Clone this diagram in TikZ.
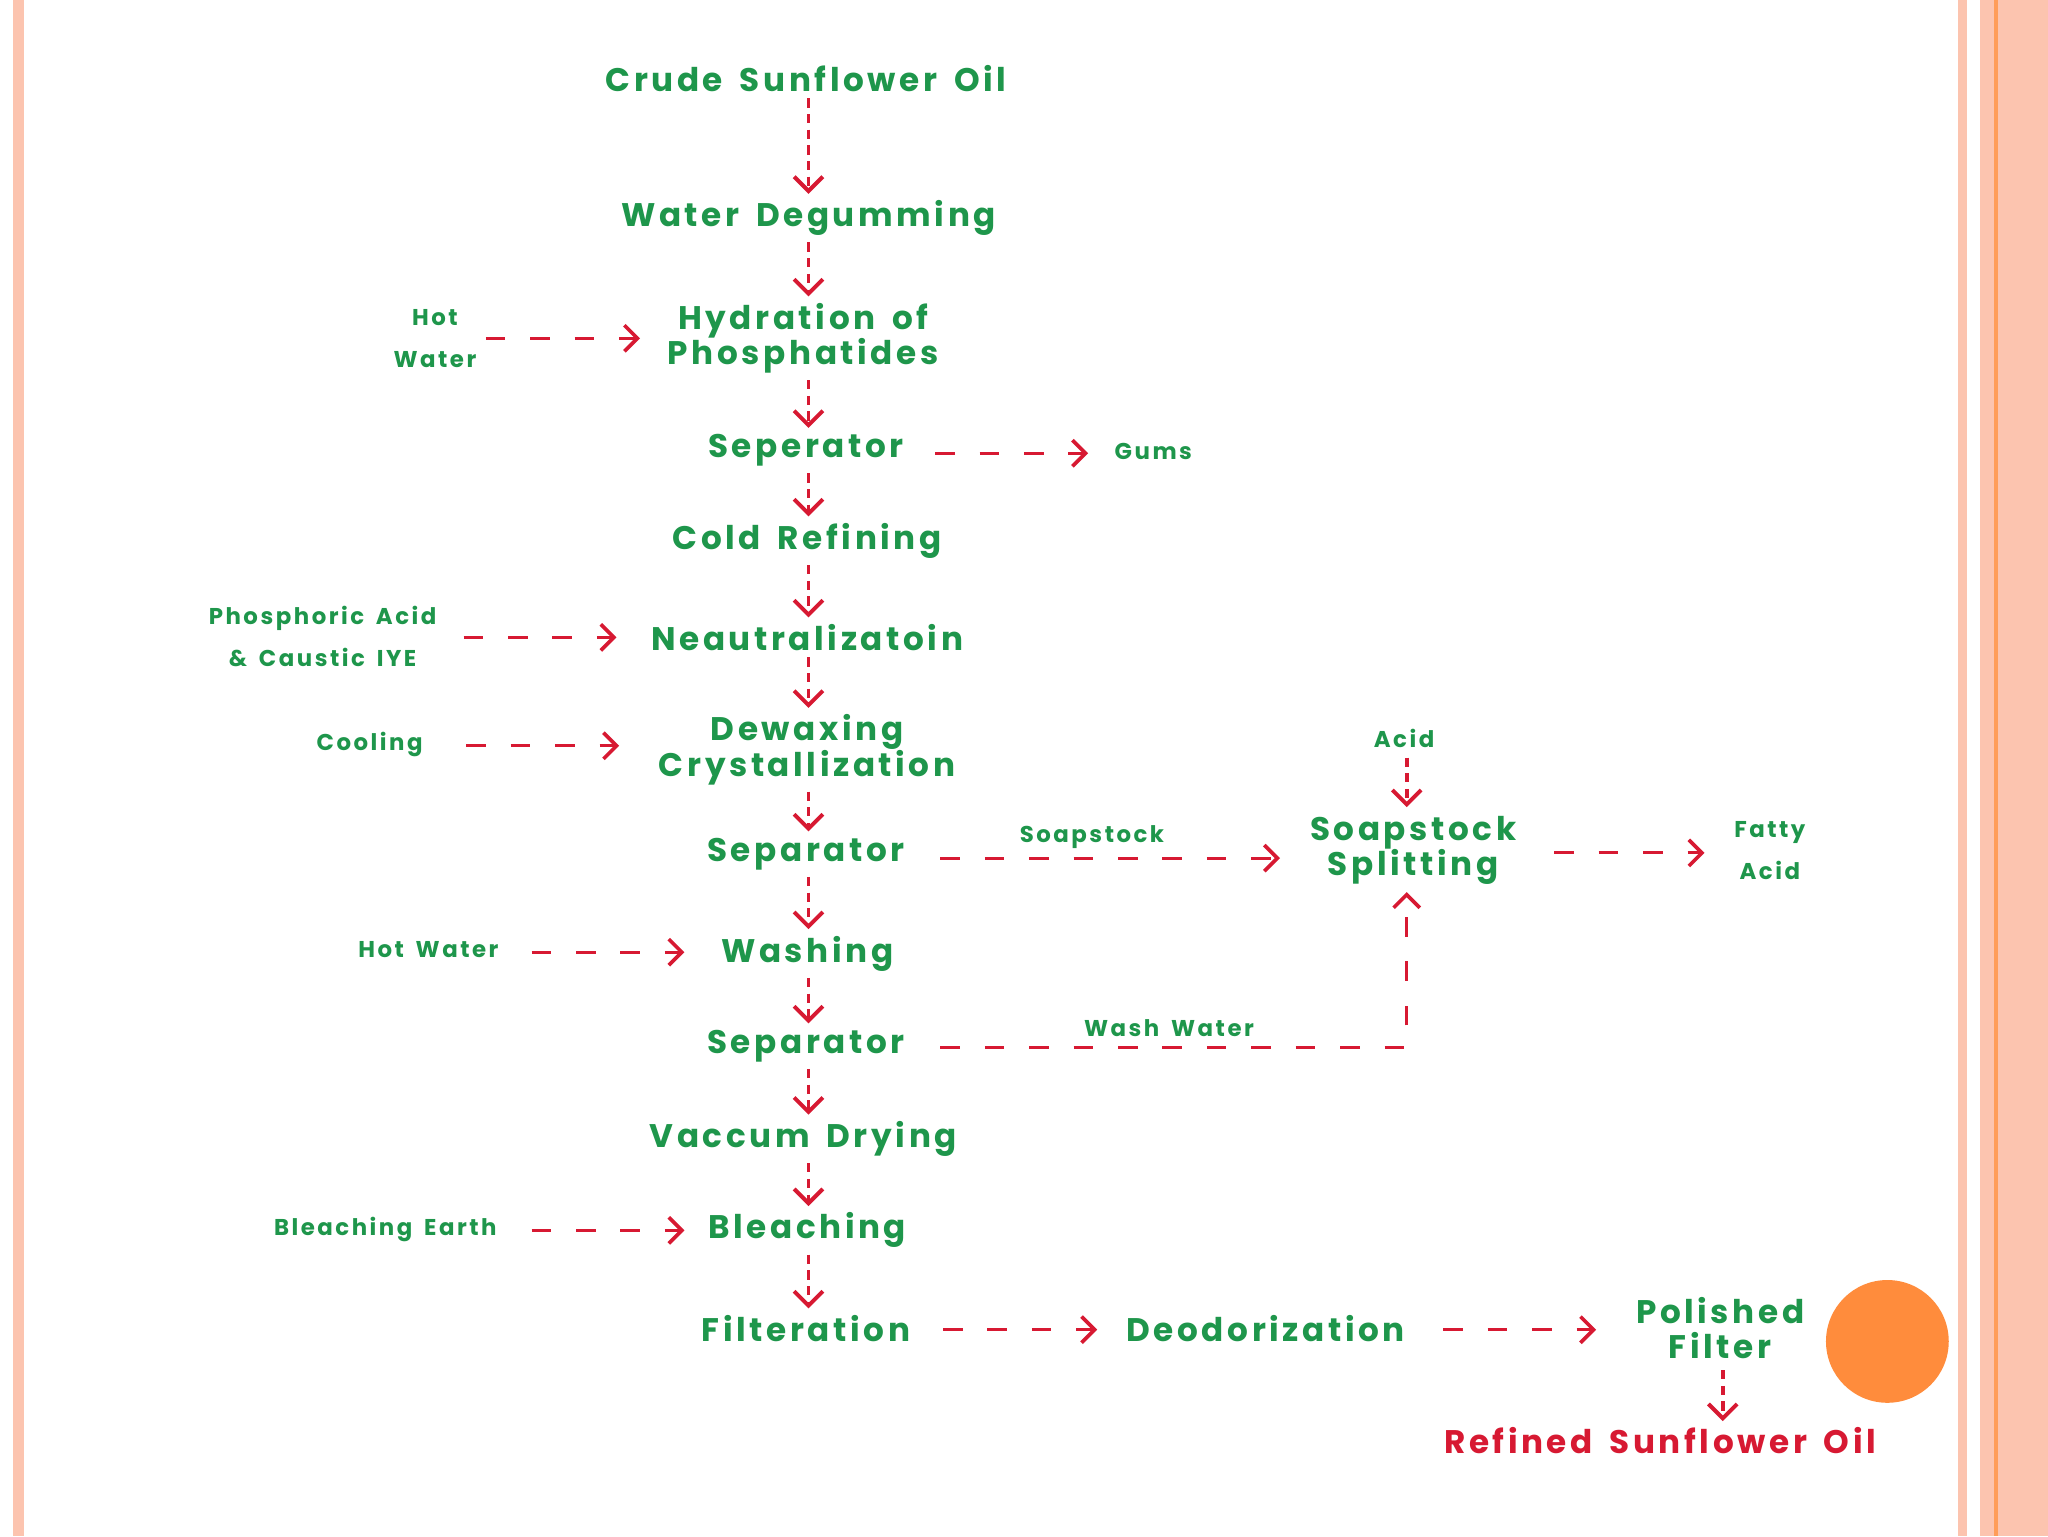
\documentclass[tikz,border=0pt]{standalone}
\usepackage{fontspec}
\setmainfont{Poppins}[LetterSpace=11,WordSpace=1.6]
\usetikzlibrary{arrows.meta}
\definecolor{gr}{RGB}{30,150,75}
\definecolor{rd}{RGB}{215,25,50}
\definecolor{sal}{RGB}{252,196,175}
\definecolor{org}{RGB}{255,140,60}
\begin{document}
\begin{tikzpicture}[x=1pt,y=-1pt,
 m/.style={text=gr,font=\fontsize{25}{27}\selectfont\bfseries,align=center,inner sep=3pt},
 s/.style={text=gr,font=\fontsize{17.5}{32}\selectfont\bfseries,align=center,inner sep=2pt},
 v/.style={draw=rd,line width=2.8pt,dash pattern=on 7pt off 5pt,-{Straight Barb[length=11pt,width=22pt,line width=3pt]},shorten <=2pt,shorten >=2pt},
 h/.style={draw=rd,line width=2.4pt,dash pattern=on 15pt off 19pt,-{Straight Barb[length=10pt,width=20pt,line width=2.8pt]}}]
\useasboundingbox (0,0) rectangle (1568,1176);
\fill[white] (0,0) rectangle (1568,1176);
\fill[sal] (10,0) rectangle (18,1176);
\fill[sal] (1499,0) rectangle (1506,1176);
\fill[sal] (1516,0) rectangle (1568,1176);
\fill[org!85] (1527,0) rectangle (1529.5,1176);
\fill[org] (1445,1027) circle (47);
% main column
\node[m] (a1) at (617,60) {Crude Sunflower Oil};
\node[m] (a2) at (619,167) {Water Degumming};
\node[m] (a3) at (615,259) {Hydration of\\Phosphatides};
\node[m] (a4) at (617,345) {Seperator};
\node[m] (a5) at (618,414) {Cold Refining};
\node[m] (a6) at (618,488) {Neautralizatoin};
\node[m] (a7) at (618,574) {Dewaxing\\Crystallization};
\node[m] (a8) at (617,654) {Separator};
\node[m] (a9) at (618,730) {Washing};
\node[m] (a10) at (617,801) {Separator};
\node[m] (a11) at (615,872) {Vaccum Drying};
\node[m] (a12) at (618,942) {Bleaching};
\node[m] (a13) at (617,1017) {Filteration};
\node[m] (d) at (969,1017) {Deodorization};
\node[m] (p) at (1317,1017) {Polished\\Filter};
\node[m,text=rd] (r) at (1271,1103) {Refined Sunflower Oil};
\node[m] (ss) at (1082,651) {Soapstock\\Splitting};
% side inputs
\node[s] (hw1) at (333,259) {Hot\\Water};
\node[s] (g) at (883,346) {Gums};
\node[s] (pa) at (247,487) {Phosphoric Acid\\\& Caustic IYE};
\node[s] (co) at (283,570) {Cooling};
\node[s] (ac) at (1075,565) {Acid};
\node[s] (fa) at (1355,651) {Fatty\\Acid};
\node[s] (hw2) at (328,727) {Hot Water};
\node[s] (be) at (295,941) {Bleaching Earth};
\coordinate (c1) at (372,259); \coordinate (c2) at (490,259);
\coordinate (c3) at (716,347); \coordinate (c4) at (833,347);
\coordinate (c5) at (355,488); \coordinate (c6) at (472,488);
\coordinate (c7) at (357,571); \coordinate (c8) at (474,571);
\coordinate (c9) at (720,657); \coordinate (c10) at (980,657);
\coordinate (c11) at (1190,653); \coordinate (c12) at (1305,653);
\coordinate (c13) at (407,729); \coordinate (c14) at (524,729);
\coordinate (c15) at (720,802); \coordinate (c16) at (1077,802); \coordinate (c17) at (1077,683);
\coordinate (c18) at (407,942); \coordinate (c19) at (524,942);
\coordinate (c20) at (722,1018); \coordinate (c21) at (840,1018);
\coordinate (c22) at (1105,1018); \coordinate (c23) at (1222,1018);
\coordinate (c24) at (1077,580); \coordinate (c25) at (1077,620);
\coordinate (c26) at (1319,1049); \coordinate (c27) at (1319,1088);
% verticals
\foreach \u/\w in {a1/a2,a2/a3,a3/a4,a4/a5,a5/a6,a6/a7,a7/a8,a8/a9,a9/a10,a10/a11,a11/a12,a12/a13}
  \draw[v] (\u.south -| 619,0) -- (\w.north -| 619,0);
\draw[v,shorten <=0pt,shorten >=0pt] (c26) -- (c27);
\draw[v,shorten <=0pt] (c24) -- (c25);
% horizontals
\draw[h] (c1) -- (c2);
\draw[h] (c3) -- (c4);
\draw[h] (c5) -- (c6);
\draw[h] (c7) -- (c8);
\draw[h] (c9) -- node[s,above=4pt,xshift=-14pt]{Soapstock} (c10);
\draw[h] (c11) -- (c12);
\draw[h] (c13) -- (c14);
\draw[h] (c18) -- (c19);
\draw[h] (c20) -- (c21);
\draw[h] (c22) -- (c23);
\draw[h] (c15) -- (c16) -- (c17);
\node[s] at (895,787) {Wash Water};
\end{tikzpicture}
\end{document}
